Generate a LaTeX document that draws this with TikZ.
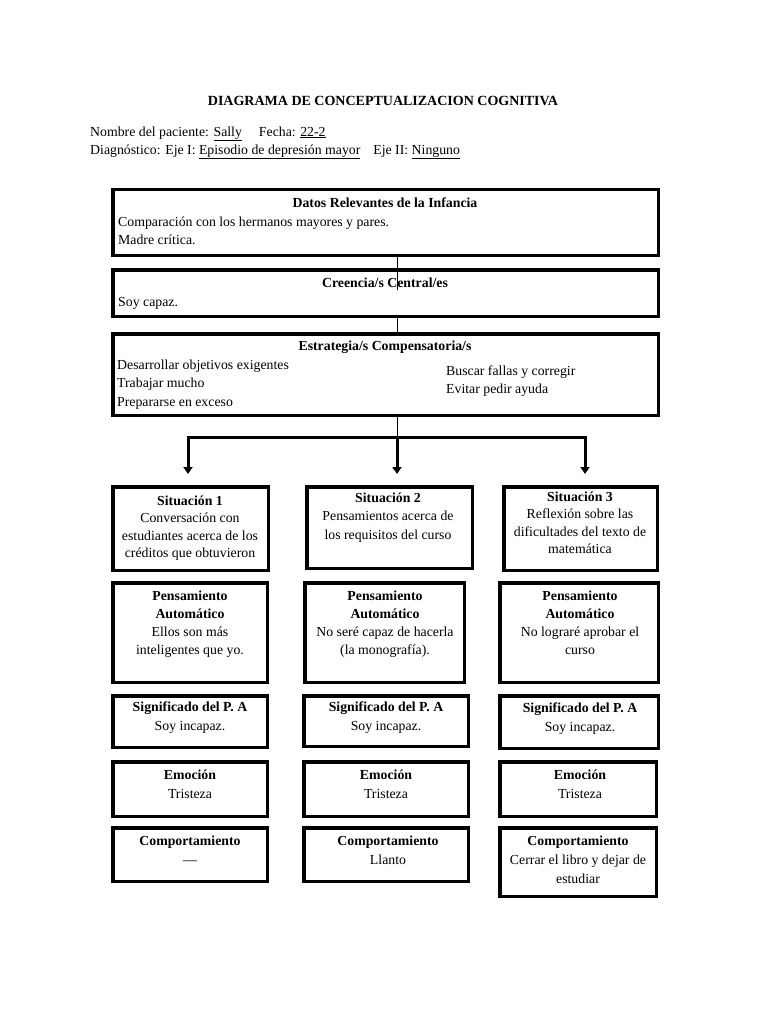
\documentclass[tikz,border=0pt]{standalone}
\usepackage{fontspec}
\setmainfont{Liberation Serif}
\usetikzlibrary{arrows.meta,calc}
\newcommand\mybox[5]{\node[box, minimum width={(#4)-(#2)-3.5}, minimum height={(#5)-(#3)-3.5}] (#1) at ({((#2)+(#4))/2},{((#3)+(#5))/2}) {};}
\newcommand\R{\rule{0pt}{10pt}}
\begin{document}
\begin{tikzpicture}[x=1pt,y=-1pt,
  box/.style={draw,line width=3.5pt,inner sep=0pt},
  txt/.style={inner sep=0pt,anchor=north,align=center,font=\fontsize{13.8}{18}\selectfont},
  ltxt/.style={inner sep=0pt,anchor=north west,align=left,font=\fontsize{13.8}{18.5}\selectfont},
  hd/.style={inner sep=0pt,anchor=north,font=\fontsize{13.8}{18}\selectfont\bfseries},
  thinln/.style={line width=1pt},
  thickln/.style={line width=3pt},
  arr/.style={line width=3pt,-{Triangle[width=9pt,length=7pt]}},
]
\useasboundingbox[fill=white] (0,0) rectangle (768,1024);

\node[hd,anchor=center,font=\fontsize{14}{18}\selectfont\bfseries] (title) at (383,101) {DIAGRAMA DE CONCEPTUALIZACION COGNITIVA};
\node[ltxt] (h1) at (90,126) {\R Nombre del paciente: \underline{Sally}\hspace{17pt}Fecha: \underline{22-2}};
\node[ltxt] (h2) at (90,144) {\R Diagnóstico: Eje I: \underline{Episodio de depresión mayor}\hspace{13pt}Eje II: \underline{Ninguno}};

% top boxes
\mybox{datos}{111}{188}{660}{257}
\mybox{creencia}{111}{268}{660}{318}
\mybox{estrategia}{111}{332}{660}{417}

\node[hd] (datosh) at (385,197) {\R Datos Relevantes de la Infancia};
\node[ltxt,font=\fontsize{13.8}{18}\selectfont] (datosb) at (118,216) {\R Comparación con los hermanos mayores y pares.\\Madre crítica.};
\node[hd] (creenciah) at (385,277) {\R Creencia/s Central/es};
\node[ltxt] (creenciab) at (118,296) {\R Soy capaz.};
\node[hd] (estrategiah) at (385,340) {\R Estrategia/s Compensatoria/s};
\node[ltxt] (estl) at (117,359) {\R Desarrollar objetivos exigentes\\Trabajar mucho\\Prepararse en exceso};
\node[ltxt] (estr) at (446,365) {\R Buscar fallas y corregir\\Evitar pedir ayuda};

% connectors
\coordinate (spine) at (397,0);
\coordinate (hm) at (397,437);
\coordinate (hl) at (188,437);
\coordinate (hr) at (585,437);
\draw[thinln] (datos.south -| spine) -- (397,290);
\draw[thinln] (creencia.south -| spine) -- (estrategia.north -| spine);
\draw[thinln] (estrategia.south -| spine) -- (hm);
\draw[thickln] ([xshift=-1.5pt]hl) -- ([xshift=1.5pt]hr);

% situation boxes
\mybox{sit1}{111}{485}{270}{572}
\mybox{sit2}{305}{485}{474}{570}
\mybox{sit3}{502}{485}{659}{572}
\draw[arr] (hl) -- ([yshift=11pt]hl |- sit1.north);
\draw[arr] (hm) -- ([yshift=11pt]hm |- sit2.north);
\draw[arr] (hr) -- ([yshift=11pt]hr |- sit3.north);

\node[txt,font=\fontsize{13.8}{17.5}\selectfont] (sit1t) at (190,495) {\R\textbf{Situación 1}\\Conversación con\\estudiantes acerca de los\\créditos que obtuvieron};
\node[txt,font=\fontsize{13.8}{18.5}\selectfont] (sit2t) at (388,492) {\R\textbf{Situación 2}\\Pensamientos acerca de\\los requisitos del curso};
\node[txt,font=\fontsize{13.8}{17.5}\selectfont] (sit3t) at (580,491) {\R\textbf{Situación 3}\\Reflexión sobre las\\dificultades del texto de\\matemática};

% pensamiento automatico
\mybox{pa1}{111}{581}{269}{684}
\mybox{pa2}{303}{581}{466}{684}
\mybox{pa3}{498}{581}{660}{684}
\node[txt] (pa1t) at (190,590) {\R\textbf{Pensamiento}\\\textbf{Automático}\\Ellos son más\\inteligentes que yo.};
\node[txt] (pa2t) at (385,590) {\R\textbf{Pensamiento}\\\textbf{Automático}\\No seré capaz de hacerla\\(la monografía).};
\node[txt] (pa3t) at (580,590) {\R\textbf{Pensamiento}\\\textbf{Automático}\\No lograré aprobar el\\curso};

% significado
\mybox{sig1}{111}{694}{269}{749}
\mybox{sig2}{302}{694}{470}{748}
\mybox{sig3}{498}{694}{660}{750}
\node[txt,font=\fontsize{13.8}{19}\selectfont] (sig1t) at (190,701) {\R\textbf{Significado del P. A}\\Soy incapaz.};
\node[txt,font=\fontsize{13.8}{19}\selectfont] (sig2t) at (386,701) {\R\textbf{Significado del P. A}\\Soy incapaz.};
\node[txt,font=\fontsize{13.8}{19}\selectfont] (sig3t) at (580,702) {\R\textbf{Significado del P. A}\\Soy incapaz.};

% emocion
\mybox{emo1}{111}{760}{269}{818}
\mybox{emo2}{302}{760}{470}{818}
\mybox{emo3}{498}{760}{658}{818}
\node[txt,font=\fontsize{13.8}{19}\selectfont] (emo1t) at (190,769) {\R\textbf{Emoción}\\Tristeza};
\node[txt,font=\fontsize{13.8}{19}\selectfont] (emo2t) at (386,769) {\R\textbf{Emoción}\\Tristeza};
\node[txt,font=\fontsize{13.8}{19}\selectfont] (emo3t) at (580,769) {\R\textbf{Emoción}\\Tristeza};

% comportamiento
\mybox{com1}{111}{826}{269}{883}
\mybox{com2}{302}{826}{470}{883}
\mybox{com3}{498}{826}{658}{898}
\node[txt,font=\fontsize{13.8}{19}\selectfont] (com1t) at (190,835) {\R\textbf{Comportamiento}\\—};
\node[txt,font=\fontsize{13.8}{19}\selectfont] (com2t) at (388,835) {\R\textbf{Comportamiento}\\Llanto};
\node[txt,font=\fontsize{13.8}{19}\selectfont] (com3t) at (578,835) {\R\textbf{Comportamiento}\\Cerrar el libro y dejar de\\estudiar};
\end{tikzpicture}
\end{document}
